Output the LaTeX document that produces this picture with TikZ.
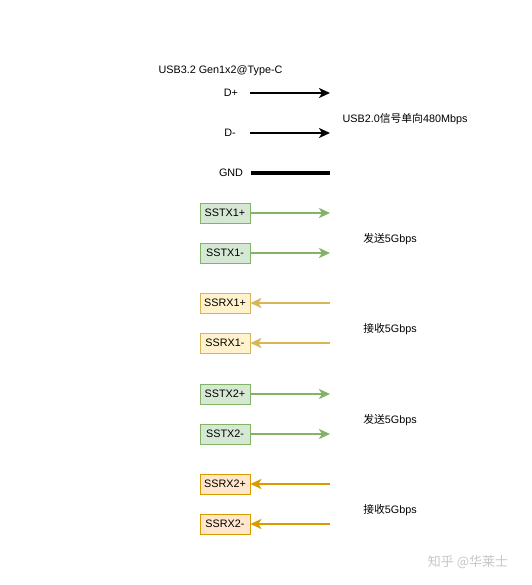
\documentclass[tikz,border=0pt]{standalone}
\usepackage{fontspec}
\setmainfont{Liberation Sans}
\newfontfamily\cjk{Noto Sans CJK SC}
\usetikzlibrary{arrows.meta,positioning}
\definecolor{txfill}{HTML}{D5E8D4}
\definecolor{txline}{HTML}{82B366}
\definecolor{rxfill}{HTML}{FFF2CC}
\definecolor{rxline}{HTML}{D6B656}
\definecolor{rbfill}{HTML}{FFE6CC}
\definecolor{rbline}{HTML}{D79B00}

\begin{document}
\begin{tikzpicture}[x=1pt,y=-1pt,
    font=\fontsize{10.8}{12}\selectfont,
    sig/.style={draw=#1,line width=1.8pt,-{Stealth[length=11pt,width=10pt,inset=3pt]}},
    lane/.style={draw=#1,line width=0.9pt,minimum width=50pt,minimum height=20pt,inner sep=1pt},
    lbl/.style={inner sep=0pt}]
  \useasboundingbox[fill=white] (0,0) rectangle (531,585);
	  \node[lbl] (title) at (220.5,71) {USB3.2 Gen1x2@Type-C};
    % USB2.0
    \node[lbl] (dp) at (231,93) {D+};
    \coordinate (dps) at (250,93); \coordinate (dpe) at (330,93);
    \draw[sig=black] (dps) -- (dpe);
    \node[lbl] (dm) at (230,133) {D-};
    \coordinate (dms) at (250,133); \coordinate (dme) at (330,133);
    \draw[sig=black] (dms) -- (dme);
    \node[lbl] (gnd) at (231,173) {GND};
    \coordinate (gnds) at (251,173); \coordinate (gnde) at (330,173);
    \draw[line width=4pt] (gnds) -- (gnde);
    \node[lbl] (usb2) at (405,119) {USB2.0{\cjk 信号单向}480Mbps};
    % lane 1
    \node[lane=txline,fill=txfill] (sstx1p) at (225,213) {SSTX1+};
    \node[lane=txline,fill=txfill] (sstx1m) at (225,253) {SSTX1-};
    \coordinate (sstx1pe) at (330,213); \coordinate (sstx1me) at (330,253);
    \draw[sig=txline] (sstx1p) -- (sstx1pe);
    \draw[sig=txline] (sstx1m) -- (sstx1me);
    \node[lbl] (tx1) at (390,239) {{\cjk 发送}5Gbps};
    \node[lane=rxline,fill=rxfill] (ssrx1p) at (225,303) {SSRX1+};
    \node[lane=rxline,fill=rxfill] (ssrx1m) at (225,343) {SSRX1-};
    \coordinate (ssrx1ps) at (330,303); \coordinate (ssrx1ms) at (330,343);
    \draw[sig=rxline] (ssrx1ps) -- (ssrx1p);
    \draw[sig=rxline] (ssrx1ms) -- (ssrx1m);
    \node[lbl] (rx1) at (390,329) {{\cjk 接收}5Gbps};
    % lane 2
    \node[lane=txline,fill=txfill] (sstx2p) at (225,394) {SSTX2+};
    \node[lane=txline,fill=txfill] (sstx2m) at (225,434) {SSTX2-};
    \coordinate (sstx2pe) at (330,394); \coordinate (sstx2me) at (330,434);
    \draw[sig=txline] (sstx2p) -- (sstx2pe);
    \draw[sig=txline] (sstx2m) -- (sstx2me);
    \node[lbl] (tx2) at (390,420) {{\cjk 发送}5Gbps};
    \node[lane=rbline,fill=rbfill] (ssrx2p) at (225,484) {SSRX2+};
    \node[lane=rbline,fill=rbfill] (ssrx2m) at (225,524) {SSRX2-};
    \coordinate (ssrx2ps) at (330,484); \coordinate (ssrx2ms) at (330,524);
    \draw[sig=rbline] (ssrx2ps) -- (ssrx2p);
    \draw[sig=rbline] (ssrx2ms) -- (ssrx2m);
    \node[lbl] (rx2) at (390,510) {{\cjk 接收}5Gbps};
    \node[lbl,text=black!22,font=\cjk\fontsize{13}{15}\selectfont] (mark) at (468,562) {知乎 @华莱士};
\end{tikzpicture}
\end{document}
